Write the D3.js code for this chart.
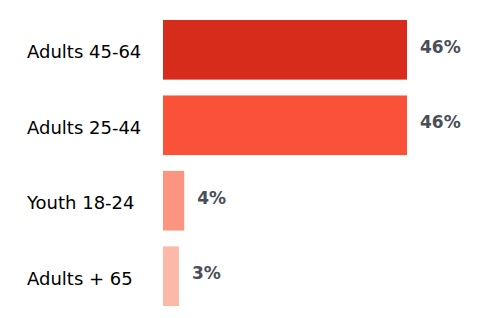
<!DOCTYPE html>
<html>
<head>
<meta charset="utf-8">
<script src="https://cdn.jsdelivr.net/npm/d3@7"></script>
<style>
  body { margin: 0; background: #fff; }
</style>
</head>
<body>
<div id="chart"></div>
<script>
// data
const categories = ["Adults 45-64", "Adults 25-44", "Youth 18-24", "Adults + 65"];
const values = [46, 46, 4, 3];
const colors = ["#d72b1b", "#f95238", "#fc9580", "#fdb9a8"];

const width = 490, height = 318;

const svg = d3.select("#chart")
  .append("svg")
  .attr("width", width)
  .attr("height", height);

// x scale for bar length
const x = d3.scaleLinear()
  .domain([0, 46])
  .range([163, 407]);

// y band per category
const y = d3.scaleBand()
  .domain(categories)
  .range([20, 306])
  .paddingInner(0.21)
  .paddingOuter(0);

const rows = categories.map((c, i) => ({ cat: c, val: values[i], color: colors[i] }));

// bars
svg.selectAll("rect.bar")
  .data(rows)
  .enter().append("rect")
  .attr("class", "bar")
  .attr("x", x(0))
  .attr("y", d => y(d.cat))
  .attr("width", d => x(d.val) - x(0))
  .attr("height", y.bandwidth())
  .attr("fill", d => d.color);

// category labels
svg.selectAll("text.cat")
  .data(rows)
  .enter().append("text")
  .attr("class", "cat")
  .attr("x", 27)
  .attr("y", d => y(d.cat) + y.bandwidth() / 2 + 2)
  .attr("dy", "0.36em")
  .attr("font-family", "DejaVu Sans, sans-serif")
  .attr("font-size", 18)
  .attr("fill", "#000")
  .text(d => d.cat);

// value labels
svg.selectAll("text.val")
  .data(rows)
  .enter().append("text")
  .attr("class", "val")
  .attr("x", d => x(d.val) + 13)
  .attr("y", d => y(d.cat) + y.bandwidth() / 2 - 3)
  .attr("dy", "0.36em")
  .attr("font-family", "DejaVu Sans, sans-serif")
  .attr("font-weight", "bold")
  .attr("font-size", 17)
  .attr("fill", "#4a4e58")
  .text(d => d.val + "%");
</script>
</body>
</html>
